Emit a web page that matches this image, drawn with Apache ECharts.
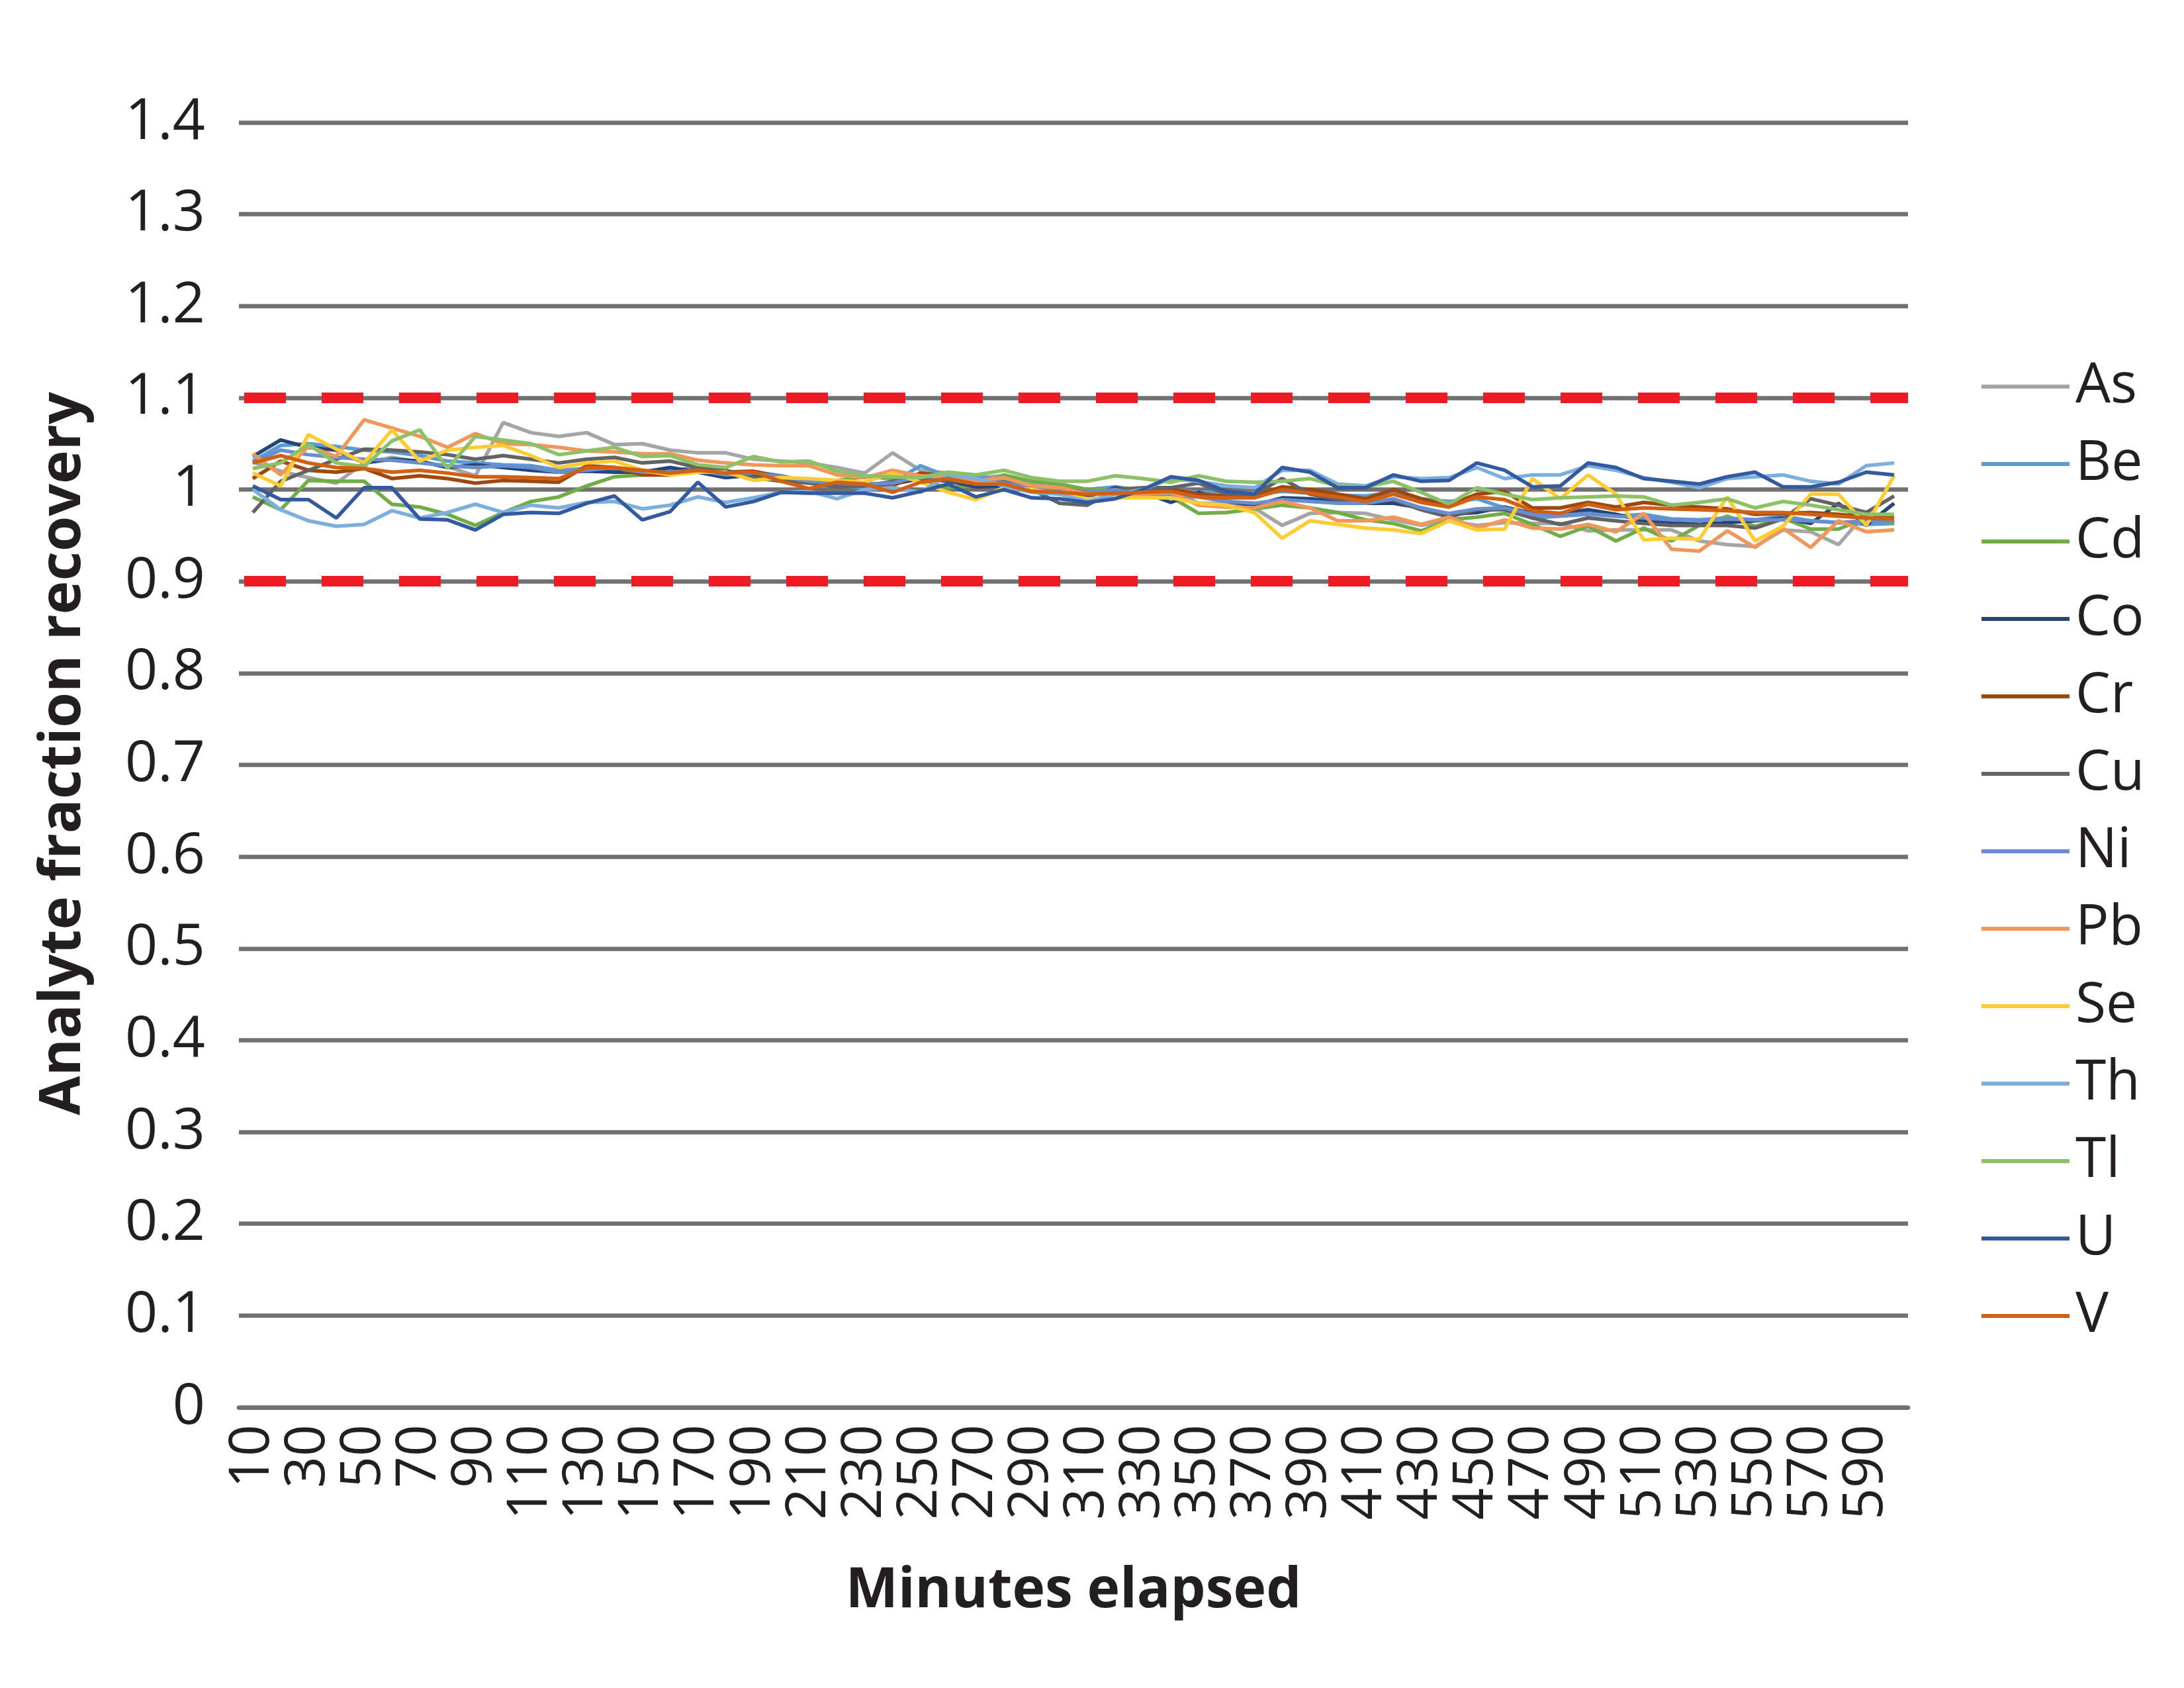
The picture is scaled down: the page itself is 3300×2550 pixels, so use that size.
<!DOCTYPE html>
<html>
<head>
<meta charset="utf-8">
<script src="https://cdn.jsdelivr.net/npm/echarts@6/dist/echarts.min.js"></script>
<style>html,body{margin:0;padding:0;background:#fff}#c{width:3300px;height:2550px}</style>
</head>
<body>
<div id="c"></div>
<script>
const minutes = [10,20,30,40,50,60,70,80,90,100,110,120,130,140,150,160,170,180,190,200,210,220,230,240,250,260,270,280,290,300,310,320,330,340,350,360,370,380,390,400,410,420,430,440,450,460,470,480,490,500,510,520,530,540,550,560,570,580,590,600];

const As = [1.030,1.020,1.013,1.007,1.029,1.035,1.030,1.025,1.015,1.073,1.062,1.058,1.062,1.049,1.050,
1.043,1.040,1.040,1.033,1.031,1.029,1.024,1.018,1.040,1.021,1.018,1.013,1.015,1.006,1.004,
0.995,0.997,0.993,1.000,0.985,0.985,0.980,0.961,0.974,0.975,0.974,0.967,0.961,0.966,0.961,
0.964,0.963,0.963,0.955,0.956,0.956,0.956,0.944,0.940,0.938,0.956,0.954,0.940,0.975,0.963];
const Be = [1.031,1.048,1.050,1.047,1.043,1.041,1.037,1.031,1.029,1.027,1.026,1.021,1.023,1.021,1.020,
1.021,1.024,1.019,1.019,1.015,1.008,1.004,1.002,1.008,1.026,1.014,1.015,1.009,1.004,1.001,
1.000,1.003,0.999,1.001,0.997,0.998,0.995,0.998,0.996,0.994,0.993,0.997,0.990,0.987,0.990,
0.980,0.969,0.971,0.973,0.971,0.973,0.968,0.967,0.969,0.967,0.971,0.966,0.964,0.962,0.963];
const Cd = [0.992,0.978,1.010,1.009,1.009,0.984,0.981,0.973,0.961,0.975,0.987,0.992,1.004,1.014,1.016,
1.019,1.021,1.018,1.014,1.010,1.008,1.010,1.014,1.012,1.010,1.002,1.004,1.016,1.009,1.006,
1.000,1.000,0.995,0.992,0.974,0.975,0.979,0.983,0.980,0.975,0.967,0.963,0.955,0.967,0.970,
0.974,0.962,0.949,0.960,0.944,0.958,0.944,0.961,0.971,0.960,0.969,0.957,0.957,0.969,0.963];
const Co = [1.036,1.054,1.046,1.043,1.029,1.033,1.031,1.024,1.027,1.024,1.021,1.019,1.020,1.019,1.019,
1.024,1.019,1.013,1.016,1.010,1.007,1.004,1.006,1.006,1.012,1.009,1.003,1.004,1.000,0.997,
0.992,1.002,0.997,0.986,0.997,0.987,0.983,0.991,0.990,0.987,0.985,0.985,0.980,0.973,0.975,
0.981,0.974,0.974,0.978,0.973,0.966,0.964,0.962,0.964,0.966,0.969,0.963,0.985,0.961,0.985];
const Cr = [1.012,1.031,1.021,1.019,1.023,1.012,1.015,1.012,1.007,1.010,1.009,1.008,1.026,1.024,1.016,
1.016,1.023,1.019,1.020,1.014,1.008,1.010,1.007,1.004,1.018,1.015,1.008,1.008,1.002,1.000,
0.997,0.998,1.000,1.001,0.995,0.993,0.993,1.003,1.000,0.995,0.990,1.000,0.990,0.983,0.995,
0.998,0.980,0.980,0.986,0.981,0.986,0.983,0.981,0.979,0.973,0.974,0.975,0.973,0.970,0.969];
const Cu = [0.975,1.009,1.021,1.033,1.044,1.043,1.041,1.038,1.033,1.037,1.033,1.029,1.033,1.035,1.029,
1.031,1.024,1.021,1.013,1.009,1.007,1.003,1.004,1.009,1.012,1.010,1.006,1.008,1.000,0.985,
0.983,1.000,1.002,1.002,1.007,0.995,0.995,1.012,0.995,0.989,0.985,0.989,0.978,0.970,0.978,
0.978,0.969,0.962,0.969,0.966,0.963,0.961,0.961,0.961,0.958,0.968,0.990,0.983,0.975,0.993];
const Ni = [1.029,1.043,1.038,1.035,1.033,1.032,1.029,1.026,1.024,1.026,1.024,1.019,1.021,1.024,1.019,
1.019,1.021,1.016,1.018,1.014,1.009,1.007,1.006,1.007,1.015,1.013,1.009,1.007,1.002,0.998,
0.997,1.000,0.993,0.993,0.992,0.987,0.985,0.989,0.987,0.985,0.985,0.990,0.980,0.974,0.979,
0.980,0.973,0.972,0.974,0.971,0.969,0.967,0.966,0.968,0.967,0.967,0.966,0.964,0.966,0.966];
const Pb = [1.039,1.016,1.047,1.036,1.076,1.067,1.058,1.046,1.061,1.050,1.049,1.046,1.042,1.041,1.039,
1.039,1.032,1.029,1.027,1.026,1.026,1.016,1.013,1.021,1.015,1.014,1.009,1.013,1.004,1.002,
0.995,0.995,0.995,0.997,0.983,0.981,0.980,0.987,0.980,0.966,0.966,0.970,0.962,0.970,0.958,
0.967,0.958,0.957,0.962,0.954,0.974,0.935,0.933,0.955,0.937,0.958,0.937,0.966,0.954,0.956];
const Se = [1.018,1.004,1.060,1.044,1.029,1.065,1.031,1.043,1.046,1.048,1.037,1.024,1.029,1.031,1.021,
1.016,1.019,1.019,1.010,1.013,1.012,1.010,1.008,1.018,1.008,0.997,0.989,1.002,1.000,0.995,
0.990,0.991,0.991,0.991,0.985,0.983,0.975,0.947,0.966,0.962,0.958,0.956,0.952,0.966,0.956,
0.957,1.012,0.990,1.016,0.995,0.945,0.947,0.946,0.992,0.944,0.960,0.995,0.995,0.961,1.015];
const Th = [1.000,0.978,0.966,0.960,0.962,0.977,0.969,0.975,0.984,0.975,0.983,0.980,0.986,0.987,0.979,
0.983,0.992,0.986,0.991,0.997,0.998,0.990,1.000,1.002,0.997,1.016,1.012,1.004,0.997,0.995,
0.987,0.995,1.000,1.012,1.009,1.004,1.002,1.021,1.021,1.006,1.004,1.014,1.012,1.013,1.024,
1.012,1.016,1.016,1.026,1.021,1.013,1.008,1.002,1.012,1.014,1.016,1.009,1.006,1.026,1.029];
const Tl = [1.023,1.029,1.049,1.029,1.025,1.053,1.065,1.023,1.058,1.054,1.050,1.038,1.042,1.046,1.036,
1.037,1.027,1.024,1.036,1.030,1.031,1.020,1.015,1.014,1.013,1.019,1.016,1.021,1.013,1.009,
1.009,1.015,1.012,1.008,1.015,1.009,1.008,1.009,1.012,1.004,1.003,1.009,0.997,0.984,1.002,
0.995,0.989,0.991,0.992,0.993,0.992,0.983,0.986,0.990,0.980,0.987,0.983,0.978,0.973,0.973];
const U = [1.004,0.989,0.989,0.969,1.002,1.002,0.968,0.967,0.956,0.973,0.975,0.974,0.985,0.993,0.967,
0.976,1.008,0.981,0.987,0.997,0.996,0.996,0.996,0.991,0.998,1.006,0.992,1.000,0.991,0.990,
0.986,0.990,1.000,1.014,1.010,0.998,0.995,1.024,1.019,1.002,1.002,1.016,1.009,1.010,1.029,
1.021,1.003,1.004,1.029,1.024,1.012,1.009,1.006,1.014,1.019,1.003,1.003,1.008,1.019,1.016];
const V = [1.029,1.037,1.029,1.024,1.023,1.019,1.021,1.018,1.014,1.014,1.013,1.012,1.024,1.024,1.021,
1.018,1.021,1.018,1.019,1.009,1.001,1.008,1.006,0.997,1.008,1.012,1.006,1.006,0.998,0.997,
0.995,0.996,0.997,0.998,0.992,0.991,0.991,1.000,0.996,0.992,0.987,0.995,0.986,0.981,0.992,
0.989,0.977,0.974,0.984,0.978,0.980,0.979,0.978,0.977,0.975,0.975,0.973,0.971,0.969,0.968];

const limits = [1.1, 0.9];

const seriesNames = ['As','Be','Cd','Co','Cr','Cu','Ni','Pb','Se','Th','Tl','U','V'];
const seriesData = [As,Be,Cd,Co,Cr,Cu,Ni,Pb,Se,Th,Tl,U,V];
const colors = ['#a5a5a5','#5b9bd5','#70ad47','#264478','#9e480e','#636363','#698ed0','#f1975a','#ffcd33','#7cafdd','#8cc168','#335aa1','#d26012'];

const FONT = 'Open Sans';
const TXT = '#231f20';
const GRID = '#707070';

const series = seriesNames.map((n, k) => ({
  name: n, type: 'line', data: seriesData[k], symbol: 'none', smooth: false,
  lineStyle: { width: 5.5, color: colors[k] }, itemStyle: { color: colors[k] },
  z: 3 + k
}));
series[0].markLine = {
  silent: true, symbol: 'none', label: { show: false }, z: 2,
  lineStyle: { color: '#ed1c24', width: 16, type: [63, 54], dashOffset: -8 },
  data: limits.map(v => ({ yAxis: v }))
};

const chart = echarts.init(document.getElementById('c'), null, { renderer: 'canvas' });
chart.setOption({
  animation: false,
  backgroundColor: '#ffffff',
  color: colors,
  textStyle: { fontFamily: FONT, color: TXT },
  grid: { left: 361, right: 417, top: 185, bottom: 424, containLabel: false },
  legend: {
    orient: 'vertical', left: 2989, top: 534,
    icon: 'rect', itemWidth: 133, itemHeight: 6, itemGap: 27,
    textStyle: { fontFamily: FONT, fontSize: 84, color: TXT, lineHeight: 90, padding: [0,0,0,4] },
    data: seriesNames
  },
  xAxis: {
    type: 'category', data: minutes, boundaryGap: true,
    name: 'Minutes elapsed', nameLocation: 'middle', nameGap: 236,
    nameTextStyle: { fontFamily: FONT, fontSize: 84, fontWeight: 'bold', color: TXT },
    axisLine: { show: true, lineStyle: { color: GRID, width: 6.5 } },
    axisTick: { show: false },
    axisLabel: { interval: 1, rotate: 90, fontSize: 84, color: TXT, fontFamily: FONT, margin: 26 },
    splitLine: { show: false }
  },
  yAxis: {
    type: 'value', min: 0, max: 1.4, interval: 0.1,
    name: 'Analyte fraction recovery', nameLocation: 'middle', nameGap: 222,
    nameTextStyle: { fontFamily: FONT, fontSize: 86, fontWeight: 'bold', color: TXT, padding: [0, 0, 0, 34] },
    axisLine: { show: false }, axisTick: { show: false },
    axisLabel: { fontSize: 86, color: TXT, fontFamily: FONT, margin: 51,
      formatter: v => String(Math.round(v * 10) / 10) },
    splitLine: { show: true, lineStyle: { color: GRID, width: 6.5 } }
  },
  series: series
});
</script>
</body>
</html>
